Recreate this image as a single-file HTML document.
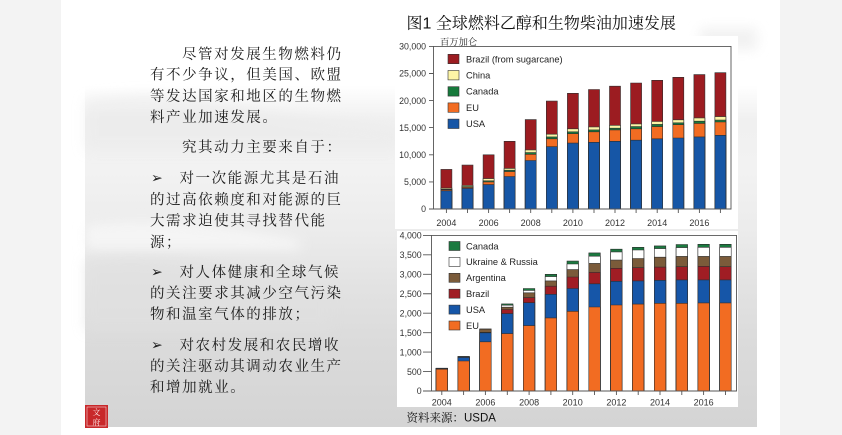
<!DOCTYPE html>
<html>
<head>
<meta charset="utf-8">
<style>
html,body{margin:0;padding:0;background:#f3f3f3;}
body{width:842px;height:435px;overflow:hidden;}
svg{display:block;}
.cn{font-family:"Noto Serif CJK SC","Noto Serif CJK",serif;font-size:14.5px;letter-spacing:1.55px;fill:#1a1a1a;}
.ar{font-family:"DejaVu Sans",sans-serif;font-size:14px;fill:#1a1a1a;}
.tk{font-family:"Liberation Sans",Arial,sans-serif;font-size:8.8px;fill:#333;}
.lg{font-family:"Liberation Sans",Arial,sans-serif;font-size:9.3px;fill:#222;}
</style>
</head>
<body>
<svg width="842" height="435" viewBox="0 0 842 435" xmlns="http://www.w3.org/2000/svg">
<defs>
<linearGradient id="bg" x1="0" y1="0" x2="0" y2="1">
<stop offset="0" stop-color="#ffffff"/>
<stop offset="0.20" stop-color="#ffffff"/>
<stop offset="0.28" stop-color="#f0f0f0"/>
<stop offset="0.40" stop-color="#f2f2f2"/>
<stop offset="0.55" stop-color="#ebebeb"/>
<stop offset="0.66" stop-color="#e3e3e3"/>
<stop offset="0.80" stop-color="#dbdbdb"/>
<stop offset="1" stop-color="#d4d4d4"/>
</linearGradient>
<filter id="bl" x="-20%" y="-50%" width="140%" height="200%"><feGaussianBlur stdDeviation="6"/></filter>
</defs>

<rect x="0" y="0" width="842" height="435" fill="#f3f3f3"/>
<rect x="61" y="0" width="719" height="435" fill="#ffffff"/>
<rect x="85" y="0" width="672" height="427" fill="url(#bg)"/>
<path d="M85 100 Q150 88 230 104 T400 128 L400 150 L85 150 Z" fill="#e9e9e9" opacity="0.5" filter="url(#bl)"/>
<path d="M85 225 Q180 215 300 240 L300 250 L85 250 Z" fill="#f8f8f8" opacity="0.8" filter="url(#bl)"/>
<path d="M85 260 Q200 250 330 290 L330 330 L85 330 Z" fill="#e0e0e0" opacity="0.6" filter="url(#bl)"/>
<path d="M700 28 L757 28 L757 50 L700 50 Z" fill="#eeeeee" opacity="0.8" filter="url(#bl)"/>

<text class="cn" x="182" y="58.8">尽管对发展生物燃料仍</text>
<text class="cn" x="150" y="79.5">有不少争议，但美国、欧盟</text>
<text class="cn" x="150" y="101.2">等发达国家和地区的生物燃</text>
<text class="cn" x="150" y="122.2">料产业加速发展。</text>
<text class="cn" x="182" y="152.2">究其动力主要来自于：</text>
<text class="ar" x="151" y="182.7">➢</text>
<text class="cn" x="179.5" y="183.2">对一次能源尤其是石油</text>
<text class="cn" x="150" y="204.5">的过高依赖度和对能源的巨</text>
<text class="cn" x="150" y="225.5">大需求迫使其寻找替代能</text>
<text class="cn" x="150" y="247.2">源；</text>
<text class="ar" x="151" y="276.7">➢</text>
<text class="cn" x="179.5" y="277.2">对人体健康和全球气候</text>
<text class="cn" x="150" y="297.8">的关注要求其减少空气污染</text>
<text class="cn" x="150" y="318.8">物和温室气体的排放；</text>
<text class="ar" x="151" y="349.3">➢</text>
<text class="cn" x="179.5" y="349.8">对农村发展和农民增收</text>
<text class="cn" x="150" y="371.2">的关注驱动其调动农业生产</text>
<text class="cn" x="150" y="392.2">和增加就业。</text>

<rect x="85" y="405" width="23" height="23" fill="#c8282a"/>
<rect x="87" y="407" width="19" height="19" fill="none" stroke="#f4d0d0" stroke-width="0.6"/>
<text x="96.5" y="415" font-family="Noto Serif CJK SC,serif" font-size="8" fill="#fbe9e9" text-anchor="middle">文</text>
<text x="96.5" y="425" font-family="Noto Serif CJK SC,serif" font-size="8" fill="#fbe9e9" text-anchor="middle">府</text>

<text x="406.5" y="28.7" font-family="Liberation Sans,Noto Serif CJK SC,serif" font-size="16" fill="#111">图1 全球燃料乙醇和生物柴油加速发展</text>

<rect x="395" y="36" width="343" height="193" fill="#ffffff"/>
<text x="440" y="44.8" font-family="Noto Serif CJK SC,serif" font-size="9.3" fill="#222">百万加仑</text>

<g stroke="#2e2e2e" stroke-width="0.6">
<path fill="#9c1c21" d="M440.9 169.4h11V209h-11ZM462.0 165.1h11V209h-11ZM483.1 154.8h11V209h-11ZM504.1 141.3h11V209h-11ZM525.2 119.6h11V209h-11ZM546.3 101.1h11V209h-11ZM567.4 93.3h11V209h-11ZM588.5 89.5h11V209h-11ZM609.5 86.2h11V209h-11ZM630.6 83.0h11V209h-11ZM651.7 80.3h11V209h-11ZM672.8 77.3h11V209h-11ZM693.9 74.6h11V209h-11ZM714.9 72.7h11V209h-11Z"/>
<path fill="#fdf5a6" d="M440.9 188.1h11V209h-11ZM462.0 185.4h11V209h-11ZM483.1 178.6h11V209h-11ZM504.1 168.4h11V209h-11ZM525.2 149.9h11V209h-11ZM546.3 134.2h11V209h-11ZM567.4 128.8h11V209h-11ZM588.5 126.9h11V209h-11ZM609.5 125.3h11V209h-11ZM630.6 123.9h11V209h-11ZM651.7 121.5h11V209h-11ZM672.8 119.8h11V209h-11ZM693.9 117.9h11V209h-11ZM714.9 116.6h11V209h-11Z"/>
<path fill="#177a3c" d="M440.9 189.2h11V209h-11ZM462.0 186.5h11V209h-11ZM483.1 180.8h11V209h-11ZM504.1 170.2h11V209h-11ZM525.2 152.6h11V209h-11ZM546.3 136.9h11V209h-11ZM567.4 131.8h11V209h-11ZM588.5 129.9h11V209h-11ZM609.5 128.2h11V209h-11ZM630.6 126.6h11V209h-11ZM651.7 124.4h11V209h-11ZM672.8 122.8h11V209h-11ZM693.9 121.2h11V209h-11ZM714.9 120.1h11V209h-11Z"/>
<path fill="#f26c22" d="M440.9 189.8h11V209h-11ZM462.0 187.3h11V209h-11ZM483.1 181.9h11V209h-11ZM504.1 171.6h11V209h-11ZM525.2 154.3h11V209h-11ZM546.3 138.8h11V209h-11ZM567.4 133.7h11V209h-11ZM588.5 131.8h11V209h-11ZM609.5 129.9h11V209h-11ZM630.6 128.8h11V209h-11ZM651.7 126.6h11V209h-11ZM672.8 124.7h11V209h-11ZM693.9 123.4h11V209h-11ZM714.9 122.0h11V209h-11Z"/>
<path fill="#1656a6" d="M440.9 190.8h11V209h-11ZM462.0 188.4h11V209h-11ZM483.1 184.6h11V209h-11ZM504.1 176.5h11V209h-11ZM525.2 160.5h11V209h-11ZM546.3 146.7h11V209h-11ZM567.4 143.1h11V209h-11ZM588.5 142.3h11V209h-11ZM609.5 141.3h11V209h-11ZM630.6 140.2h11V209h-11ZM651.7 138.8h11V209h-11ZM672.8 138.0h11V209h-11ZM693.9 136.9h11V209h-11ZM714.9 135.3h11V209h-11Z"/>
</g>

<g stroke="#555" stroke-width="0.9" fill="none">
<path d="M433.5 46.4V209H731V46.4H433.5"/>
<path d="M429 209h4.5M429 181.9h4.5M429 154.8h4.5M429 127.6h4.5M429 100.6h4.5M429 73.5h4.5M429 46.4h4.5"/>
<path d="M446.4 209v4M467.5 209v4M488.6 209v4M509.6 209v4M530.7 209v4M551.8 209v4M572.9 209v4M594.0 209v4M615.0 209v4M636.1 209v4M657.2 209v4M678.3 209v4M699.4 209v4M720.4 209v4"/>
</g>
<g class="tk" text-anchor="end">
<text x="426" y="212.2">0</text>
<text x="426" y="185.1">5,000</text>
<text x="426" y="158">10,000</text>
<text x="426" y="130.8">15,000</text>
<text x="426" y="103.8">20,000</text>
<text x="426" y="76.7">25,000</text>
<text x="426" y="49.6">30,000</text>
</g>
<g class="tk" text-anchor="middle" style="font-size:9px">
<text x="446.4" y="226">2004</text>
<text x="488.6" y="226">2006</text>
<text x="530.7" y="226">2008</text>
<text x="572.9" y="226">2010</text>
<text x="615.0" y="226">2012</text>
<text x="657.2" y="226">2014</text>
<text x="699.4" y="226">2016</text>
</g>

<g stroke="#333" stroke-width="0.6">
<rect x="448" y="54.3" width="11" height="9.4" fill="#9c1c21"/>
<rect x="448" y="70.5" width="11" height="9.4" fill="#fdf5a6"/>
<rect x="448" y="86.7" width="11" height="9.4" fill="#177a3c"/>
<rect x="448" y="102.9" width="11" height="9.4" fill="#f26c22"/>
<rect x="448" y="119.1" width="11" height="9.4" fill="#1656a6"/>
</g>
<g class="lg">
<text x="466" y="62.3">Brazil  (from sugarcane)</text>
<text x="466" y="78.5">China</text>
<text x="466" y="94.7">Canada</text>
<text x="466" y="110.9">EU</text>
<text x="466" y="127.1">USA</text>
</g>

<rect x="397" y="231" width="341" height="176" fill="#ffffff"/>

<g stroke="#2e2e2e" stroke-width="0.6">
<path fill="#1b7a40" d="M436.05 368.2h11.5V391h-11.5ZM457.9 356.4h11.5V391h-11.5ZM479.7 329.0h11.5V391h-11.5ZM501.5 303.9h11.5V391h-11.5ZM523.3 288.5h11.5V391h-11.5ZM545.2 274.3h11.5V391h-11.5ZM567.0 261.1h11.5V391h-11.5ZM588.8 252.9h11.5V391h-11.5ZM610.6 249.2h11.5V391h-11.5ZM632.4 247.3h11.5V391h-11.5ZM654.3 245.9h11.5V391h-11.5ZM676.1 244.5h11.5V391h-11.5ZM697.9 244.3h11.5V391h-11.5ZM719.7 244.3h11.5V391h-11.5Z"/>
<path fill="#ffffff" d="M436.05 368.3h11.5V391h-11.5ZM457.9 356.7h11.5V391h-11.5ZM479.7 329.0h11.5V391h-11.5ZM501.5 305.2h11.5V391h-11.5ZM523.3 290.4h11.5V391h-11.5ZM545.2 276.6h11.5V391h-11.5ZM567.0 264.0h11.5V391h-11.5ZM588.8 256.2h11.5V391h-11.5ZM610.6 251.9h11.5V391h-11.5ZM632.4 250.0h11.5V391h-11.5ZM654.3 248.6h11.5V391h-11.5ZM676.1 247.6h11.5V391h-11.5ZM697.9 247.3h11.5V391h-11.5ZM719.7 247.3h11.5V391h-11.5Z"/>
<path fill="#7b5b3a" d="M436.05 368.3h11.5V391h-11.5ZM457.9 356.8h11.5V391h-11.5ZM479.7 329.2h11.5V391h-11.5ZM501.5 307.2h11.5V391h-11.5ZM523.3 292.8h11.5V391h-11.5ZM545.2 280.9h11.5V391h-11.5ZM567.0 269.6h11.5V391h-11.5ZM588.8 263.4h11.5V391h-11.5ZM610.6 260.1h11.5V391h-11.5ZM632.4 258.5h11.5V391h-11.5ZM654.3 257.2h11.5V391h-11.5ZM676.1 256.4h11.5V391h-11.5ZM697.9 256.4h11.5V391h-11.5ZM719.7 256.4h11.5V391h-11.5Z"/>
<path fill="#a01d24" d="M436.05 368.5h11.5V391h-11.5ZM457.9 357.4h11.5V391h-11.5ZM479.7 332.3h11.5V391h-11.5ZM501.5 309.5h11.5V391h-11.5ZM523.3 297.6h11.5V391h-11.5ZM545.2 286.2h11.5V391h-11.5ZM567.0 277.0h11.5V391h-11.5ZM588.8 272.4h11.5V391h-11.5ZM610.6 268.3h11.5V391h-11.5ZM632.4 267.7h11.5V391h-11.5ZM654.3 267.1h11.5V391h-11.5ZM676.1 266.7h11.5V391h-11.5ZM697.9 266.3h11.5V391h-11.5ZM719.7 266.7h11.5V391h-11.5Z"/>
<path fill="#1656a8" d="M436.05 368.6h11.5V391h-11.5ZM457.9 357.5h11.5V391h-11.5ZM479.7 332.8h11.5V391h-11.5ZM501.5 313.6h11.5V391h-11.5ZM523.3 302.7h11.5V391h-11.5ZM545.2 294.3h11.5V391h-11.5ZM567.0 288.5h11.5V391h-11.5ZM588.8 283.8h11.5V391h-11.5ZM610.6 281.3h11.5V391h-11.5ZM632.4 280.9h11.5V391h-11.5ZM654.3 280.3h11.5V391h-11.5ZM676.1 279.9h11.5V391h-11.5ZM697.9 279.9h11.5V391h-11.5ZM719.7 279.9h11.5V391h-11.5Z"/>
<path fill="#f26c22" d="M436.05 369.2h11.5V391h-11.5ZM457.9 361.0h11.5V391h-11.5ZM479.7 341.8h11.5V391h-11.5ZM501.5 333.6h11.5V391h-11.5ZM523.3 325.6h11.5V391h-11.5ZM545.2 317.9h11.5V391h-11.5ZM567.0 311.3h11.5V391h-11.5ZM588.8 307.0h11.5V391h-11.5ZM610.6 305.0h11.5V391h-11.5ZM632.4 304.1h11.5V391h-11.5ZM654.3 303.3h11.5V391h-11.5ZM676.1 303.3h11.5V391h-11.5ZM697.9 302.9h11.5V391h-11.5ZM719.7 302.9h11.5V391h-11.5Z"/>
</g>

<g stroke="#555" stroke-width="0.9" fill="none">
<path d="M431.5 235.4V391H736.5V235.4H431.5"/>
<path d="M423 391h8.5M423 371.55h8.5M423 352.1h8.5M423 332.65h8.5M423 313.2h8.5M423 293.75h8.5M423 274.3h8.5M423 254.85h8.5M423 235.4h8.5"/>
<path d="M441.8 391v4M463.6 391v4M485.4 391v4M507.3 391v4M529.1 391v4M550.9 391v4M572.7 391v4M594.5 391v4M616.4 391v4M638.2 391v4M660.0 391v4M681.8 391v4M703.6 391v4M725.5 391v4"/>
</g>
<g class="tk" text-anchor="end">
<text x="421.7" y="394.2">0</text>
<text x="421.7" y="374.75">500</text>
<text x="421.7" y="355.3">1,000</text>
<text x="421.7" y="335.85">1,500</text>
<text x="421.7" y="316.4">2,000</text>
<text x="421.7" y="296.95">2,500</text>
<text x="421.7" y="277.5">3,000</text>
<text x="421.7" y="258.05">3,500</text>
<text x="421.7" y="238.6">4,000</text>
</g>
<g class="tk" text-anchor="middle" style="font-size:9px">
<text x="441.8" y="405.5">2004</text>
<text x="485.4" y="405.5">2006</text>
<text x="529.1" y="405.5">2008</text>
<text x="572.7" y="405.5">2010</text>
<text x="616.4" y="405.5">2012</text>
<text x="660.0" y="405.5">2014</text>
<text x="703.6" y="405.5">2016</text>
</g>

<g stroke="#333" stroke-width="0.6">
<rect x="449" y="241.5" width="11" height="9" fill="#1b7a40"/>
<rect x="449" y="257.4" width="11" height="9" fill="#ffffff"/>
<rect x="449" y="273.3" width="11" height="9" fill="#7b5b3a"/>
<rect x="449" y="289.2" width="11" height="9" fill="#a01d24"/>
<rect x="449" y="305.1" width="11" height="9" fill="#1656a8"/>
<rect x="449" y="321.0" width="11" height="9" fill="#f26c22"/>
</g>
<g class="lg">
<text x="466" y="249.3">Canada</text>
<text x="466" y="265.2">Ukraine &amp; Russia</text>
<text x="466" y="281.1">Argentina</text>
<text x="466" y="297">Brazil</text>
<text x="466" y="312.9">USA</text>
<text x="466" y="328.8">EU</text>
</g>

<text x="406.5" y="421.7" font-family="Liberation Sans,Noto Serif CJK SC,serif" font-size="11.5" fill="#111">资料来源：USDA</text>
</svg>
</body>
</html>
